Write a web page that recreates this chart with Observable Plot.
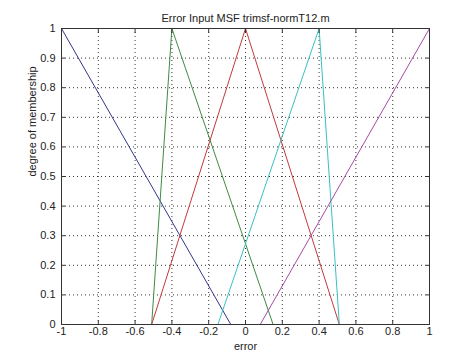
<!DOCTYPE html>
<html>
<head>
<meta charset="utf-8">
<script src="https://cdn.jsdelivr.net/npm/d3@7"></script>
<script src="https://cdn.jsdelivr.net/npm/@observablehq/plot@0.6"></script>
<style>
  html, body { margin: 0; padding: 0; background: #fff; }
  svg { display: block; }
</style>
</head>
<body>
<div id="chart"></div>
<script>
const title = "Error Input MSF trimsf-normT12.m";
const xLabel = "error";
const yLabel = "degree of membership";

const xTicks = [-1, -0.8, -0.6, -0.4, -0.2, 0, 0.2, 0.4, 0.6, 0.8, 1];
const yTicks = [0, 0.1, 0.2, 0.3, 0.4, 0.5, 0.6, 0.7, 0.8, 0.9, 1];

const blueX = [-1, -0.08];
const blueY = [1, 0];
const greenX = [-0.51, -0.4, 0.15];
const greenY = [0, 1, 0];
const redX = [-0.51, 0, 0.51];
const redY = [0, 1, 0];
const cyanX = [-0.15, 0.4, 0.51];
const cyanY = [0, 1, 0];
const purpleX = [0.08, 1];
const purpleY = [0, 1];

const seriesNames = ["mf1", "mf2", "mf3", "mf4", "mf5"];
const seriesColors = ["#34348e", "#3f8a45", "#c2393d", "#3cc0c0", "#a64ca6"];
const seriesX = [blueX, greenX, redX, cyanX, purpleX];
const seriesY = [blueY, greenY, redY, cyanY, purpleY];

const rows = seriesNames.flatMap((name, i) =>
  seriesX[i].map((x, j) => ({name, x, y: seriesY[i][j]}))
);

const fmt = d => String(+d.toFixed(1));
const font = "Liberation Sans, Arial, sans-serif";

const chart = Plot.plot({
  width: 474,
  height: 364,
  marginLeft: 61,
  marginRight: 45,
  marginTop: 28,
  marginBottom: 40,
  style: {fontFamily: font, fontSize: "11px", color: "#222", background: "#fff"},
  x: {domain: [-1, 1]},
  y: {domain: [0, 1]},
  color: {domain: seriesNames, range: seriesColors},
  marks: [
    Plot.gridX(xTicks.slice(1, -1), {stroke: "#000", strokeOpacity: 0.8, strokeDasharray: "1,3"}),
    Plot.gridY(yTicks.slice(1, -1), {stroke: "#000", strokeOpacity: 0.8, strokeDasharray: "1,3"}),
    Plot.line(rows, {x: "x", y: "y", z: "name", stroke: "name", strokeWidth: 1}),
    Plot.frame({stroke: "#333", strokeWidth: 1}),
    Plot.axisX(xTicks, {anchor: "bottom", tickSize: -4, tickPadding: 7, tickFormat: fmt, label: null, stroke: "#333"}),
    Plot.axisX(xTicks, {anchor: "top", tickSize: -4, tickFormat: null, text: null, label: null, stroke: "#333"}),
    Plot.axisY(yTicks, {anchor: "left", tickSize: -4, tickPadding: 10, tickFormat: fmt, label: null, stroke: "#333"}),
    Plot.axisY(yTicks, {anchor: "right", tickSize: -4, tickFormat: null, text: null, label: null, stroke: "#333"}),
    Plot.text([title], {frameAnchor: "top", dy: -14, fontSize: 11, fill: "#222"}),
    Plot.text([xLabel], {frameAnchor: "bottom", dy: 25, fontSize: 11, fill: "#222"}),
    Plot.text([yLabel], {frameAnchor: "left", dx: -29, rotate: -90, fontSize: 11, fill: "#222"})
  ]
});
document.getElementById("chart").appendChild(chart);
</script>
</body>
</html>
